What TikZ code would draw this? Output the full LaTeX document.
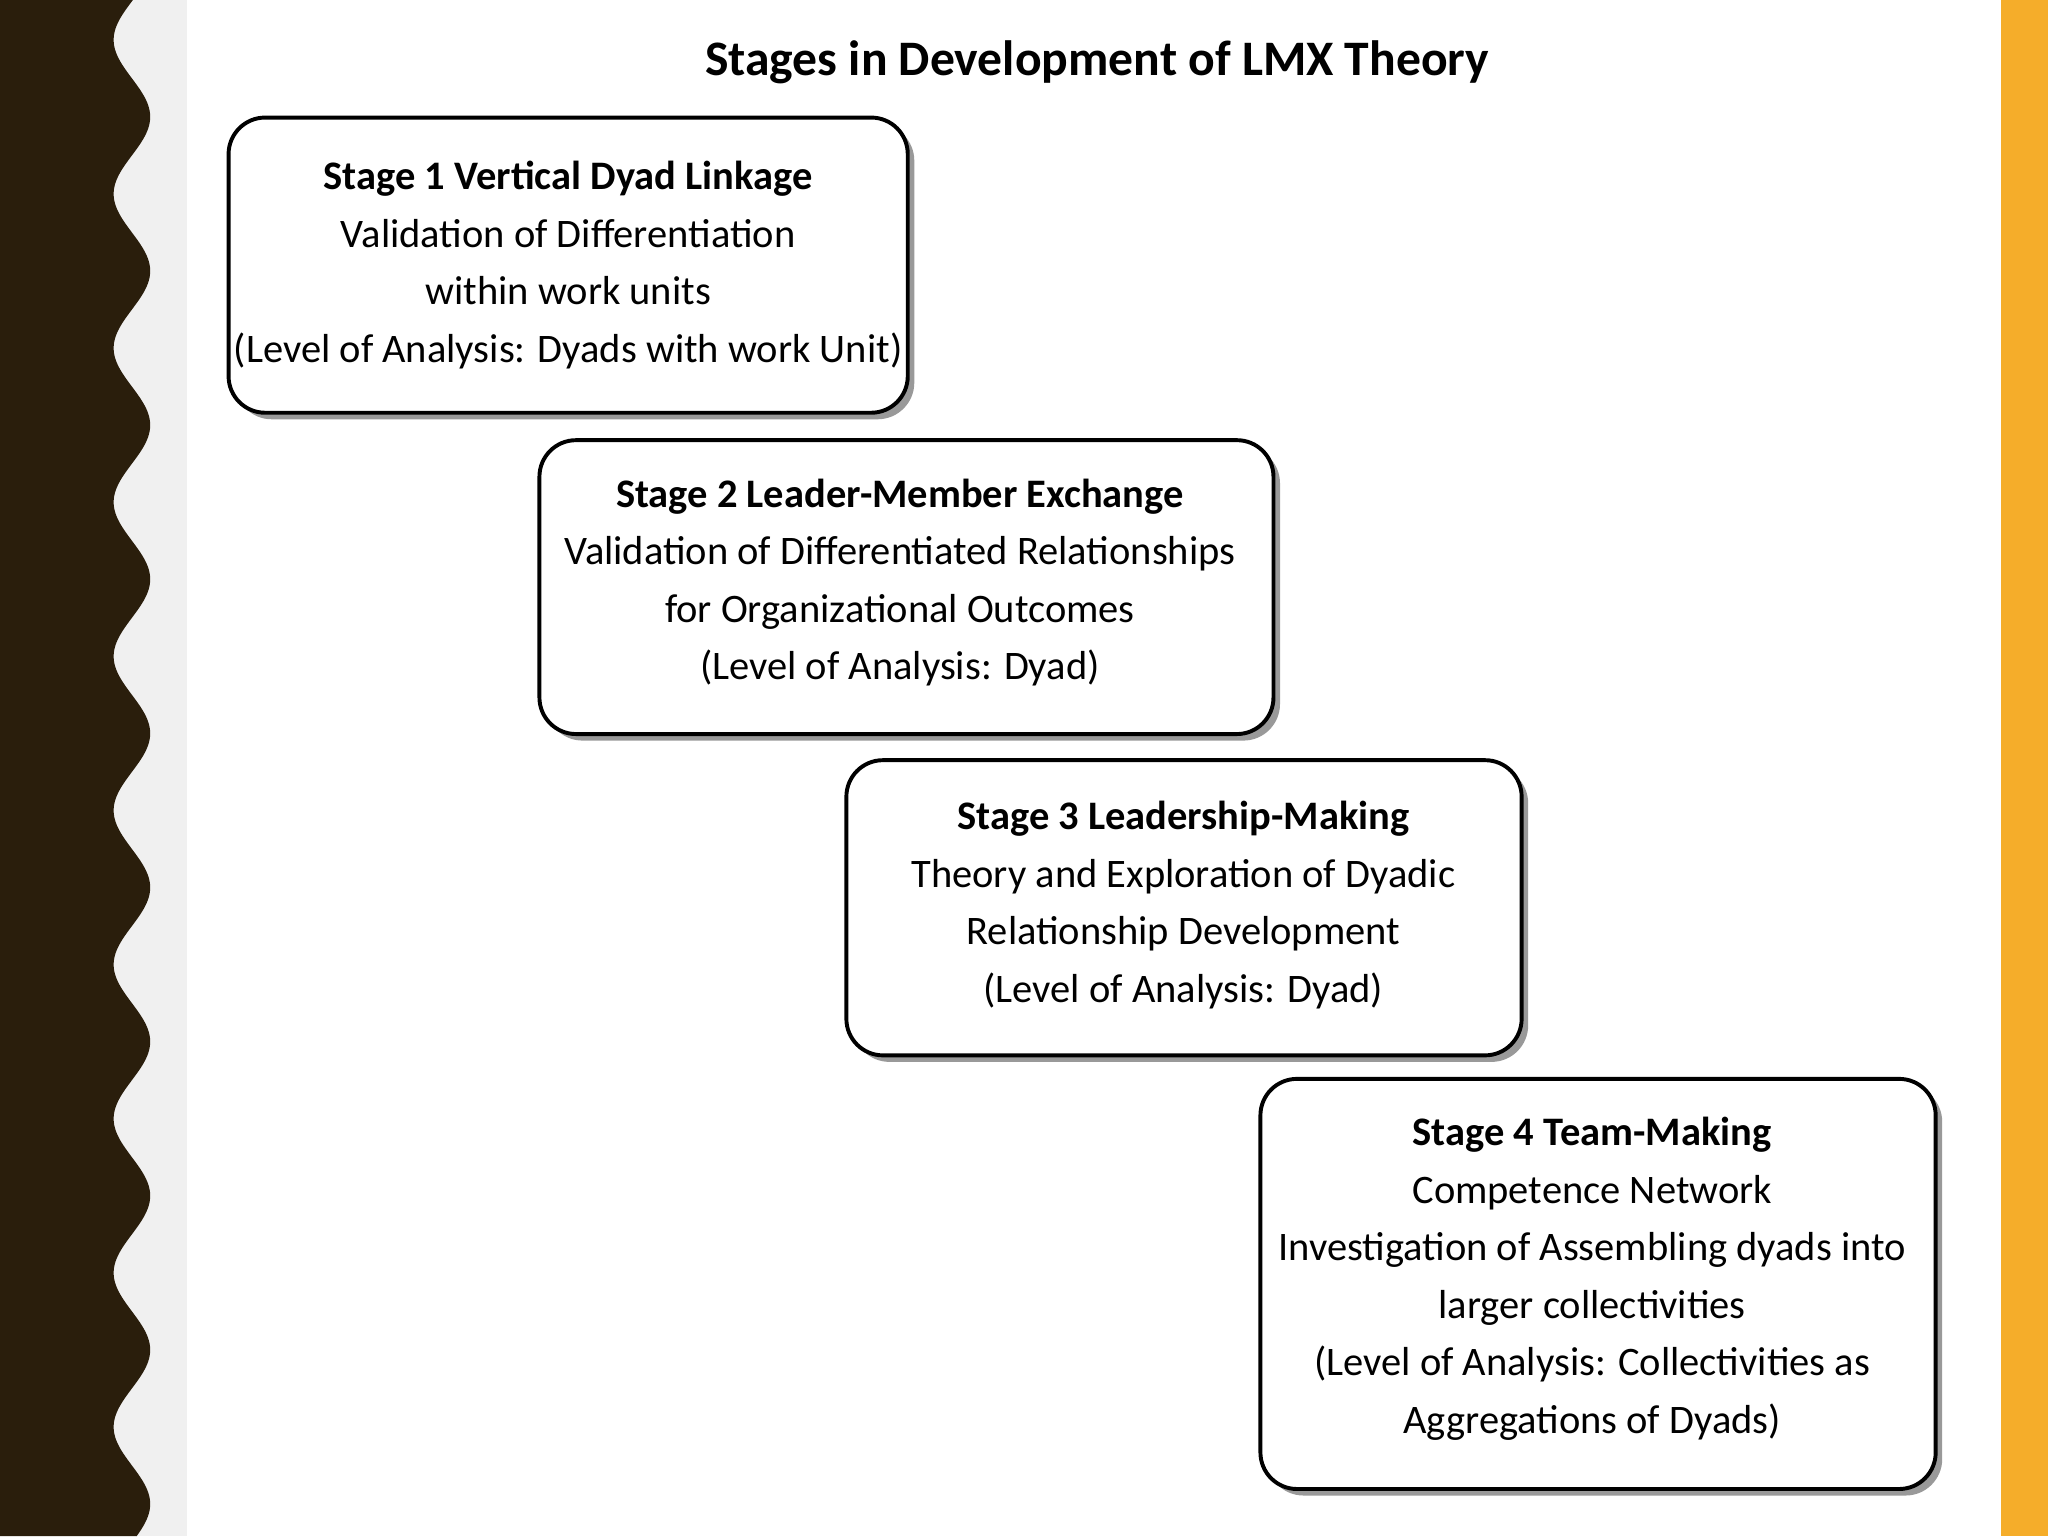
\documentclass[tikz,border=0pt]{standalone}
\usepackage{fontspec}
\setmainfont{Carlito}
\usetikzlibrary{shadows}
\definecolor{orng}{RGB}{245,173,42}
\definecolor{dark}{RGB}{42,30,12}
\begin{document}
\begin{tikzpicture}[x=1pt,y=-1pt,
  stagebox/.style={draw=black,line width=3pt,rounded corners=28pt,fill=white,
    drop shadow={shadow xshift=5pt,shadow yshift=-5pt,opacity=0.8}},
  txt/.style={font=\fontsize{31}{44}\selectfont,align=center,inner sep=0pt}]
\useasboundingbox (0,0) rectangle (1568,1176);
\fill[white] (0,0) rectangle (1568,1176);
\fill[black!6] (0,0) rectangle (143,1176);
\fill[orng] (1532,0) rectangle (1568,1176);
\fill[dark] (0,0) -- plot[domain=0:1176,samples=300,smooth] ({101+14*sin(3.0508*\x-183)},\x) -- (0,1176) -- cycle;
\node[txt,font=\bfseries\fontsize{38}{40}\selectfont] (title) at (840,48) {Stages in Development of LMX Theory};
\draw[stagebox] (175,90) rectangle (695,316);
\node[txt] (s1) at (435,203) {\textbf{Stage 1 Vertical Dyad Linkage}\\Validation of Differentiation\\within work units\\(Level of Analysis: Dyads with work Unit)};
\draw[stagebox] (413,337) rectangle (975,562);
\node[txt] (s2) at (689,446) {\textbf{Stage 2 Leader-Member Exchange}\\Validation of Differentiated Relationships\\for Organizational Outcomes\\(Level of Analysis: Dyad)};
\draw[stagebox] (648,582) rectangle (1165,808);
\node[txt] (s3) at (906,693) {\textbf{Stage 3 Leadership-Making}\\Theory and Exploration of Dyadic\\Relationship Development\\(Level of Analysis: Dyad)};
\draw[stagebox] (965,826) rectangle (1482,1140);
\node[txt] (s4) at (1219,979) {\textbf{Stage 4 Team-Making}\\Competence Network\\Investigation of Assembling dyads into\\larger collectivities\\(Level of Analysis: Collectivities as\\Aggregations of Dyads)};
\end{tikzpicture}
\end{document}
